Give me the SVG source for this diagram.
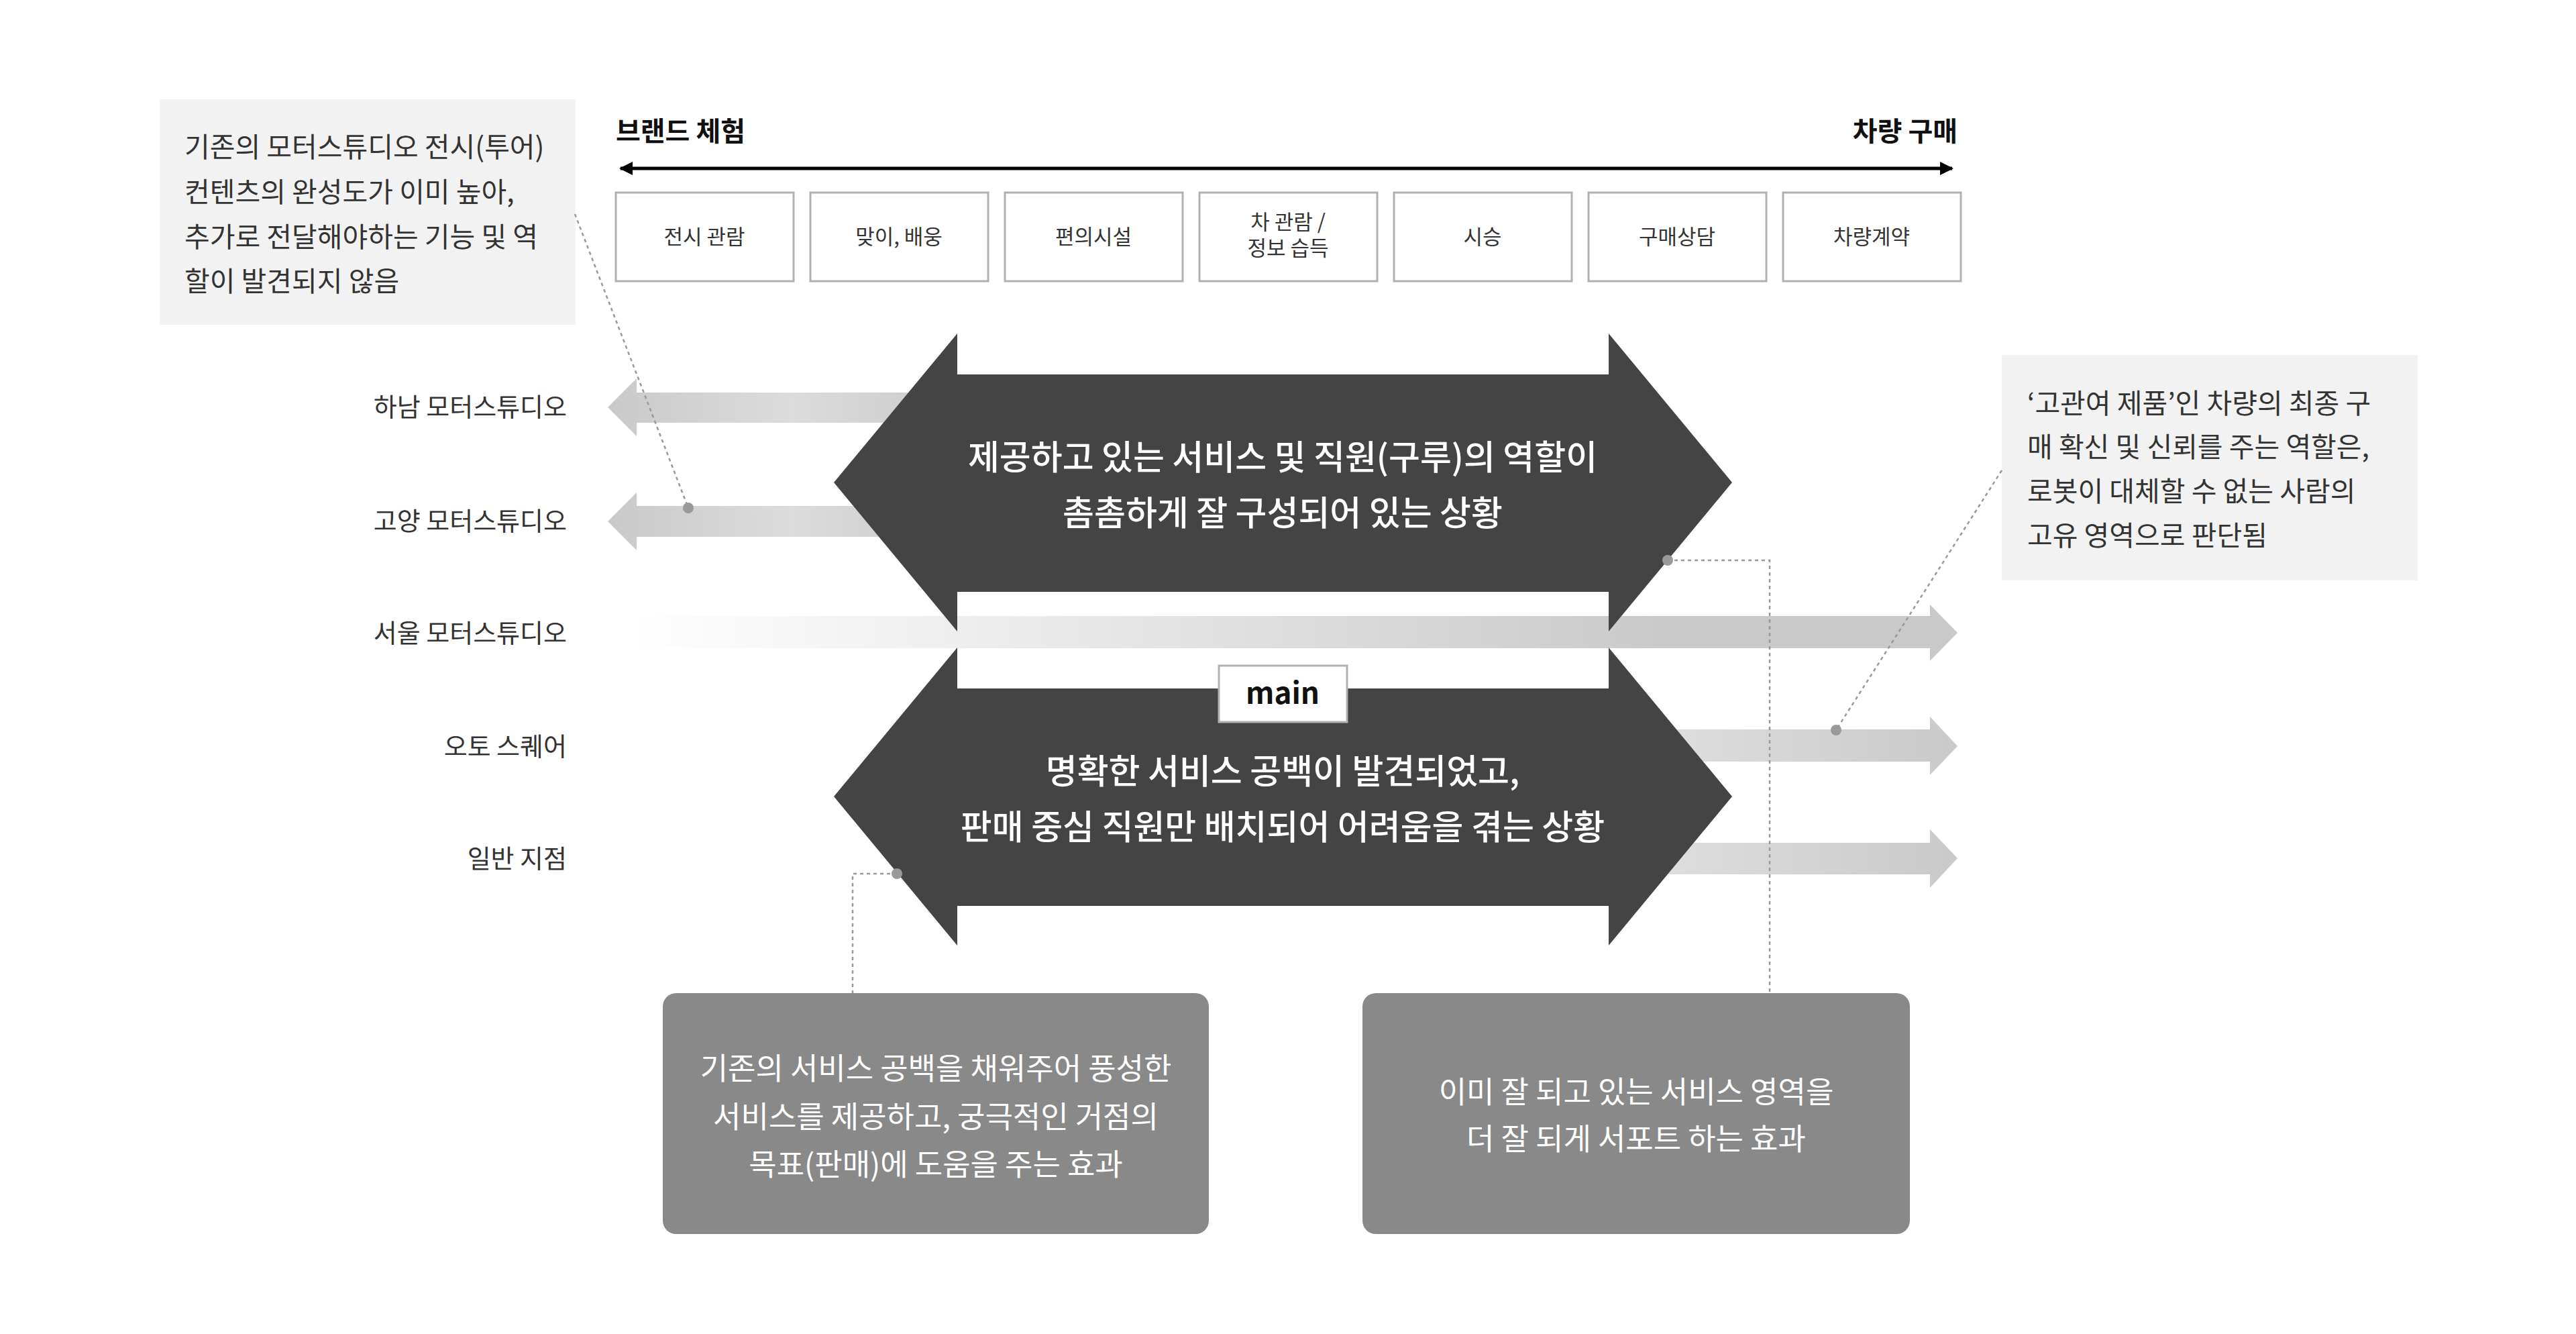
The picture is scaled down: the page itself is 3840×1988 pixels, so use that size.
<svg xmlns="http://www.w3.org/2000/svg" width="3840" height="1988" viewBox="0 0 3840 1988">
<defs>
<style>
text{font-family:"Noto Sans CJK KR","Noto Sans",sans-serif}
.step{fill:#fff;stroke:#b0b0b0;stroke-width:3}
.st{font-size:31px;fill:#333;text-anchor:middle}
.row{font-size:38px;fill:#333;text-anchor:end}
.note{font-size:41px;fill:#333}
.dark{fill:#444}
.wt{font-size:51px;fill:#fff;text-anchor:middle;font-weight:500}
.bt{font-size:45px;fill:#fff;text-anchor:middle}
.dot{stroke:#999;stroke-width:2.5;stroke-dasharray:5 5;fill:none}
.pt{fill:#999}
</style>
<linearGradient id="gL" gradientUnits="userSpaceOnUse" x1="906" y1="0" x2="1450" y2="0"><stop offset="0" stop-color="#c9c9c9"/><stop offset="0.5" stop-color="#dcdcdc"/><stop offset="1" stop-color="#c9c9c9"/></linearGradient>
<linearGradient id="gS" gradientUnits="userSpaceOnUse" x1="940" y1="0" x2="2500" y2="0"><stop offset="0" stop-color="#fff"/><stop offset="1" stop-color="#c9c9c9"/></linearGradient>
<linearGradient id="gR" gradientUnits="userSpaceOnUse" x1="2400" y1="0" x2="2918" y2="0"><stop offset="0" stop-color="#e2e2e2"/><stop offset="1" stop-color="#c9c9c9"/></linearGradient>
<marker id="ah" viewBox="0 0 10 10" refX="9" refY="5" markerWidth="4" markerHeight="4" orient="auto-start-reverse"><path d="M0,0L10,5L0,10z" fill="#000"/></marker>
</defs>
<rect width="3840" height="1988" fill="#fff"/>

<g id="timeline">
<text x="918" y="210" font-size="40" font-weight="700" fill="#111">브랜드 체험</text>
<text x="2918" y="210" font-size="40" font-weight="700" fill="#111" text-anchor="end">차량 구매</text>
<line x1="925" y1="251" x2="2910" y2="251" stroke="#000" stroke-width="5" marker-start="url(#ah)" marker-end="url(#ah)"/>
</g>
<g id="steps">
<rect class="step" x="918" y="287" width="265" height="132"/><text class="st" x="1050" y="364">전시 관람</text>
<rect class="step" x="1208" y="287" width="265" height="132"/><text class="st" x="1340" y="364">맞이, 배웅</text>
<rect class="step" x="1498" y="287" width="265" height="132"/><text class="st" x="1630" y="364">편의시설</text>
<rect class="step" x="1788" y="287" width="265" height="132"/><text class="st" x="1920" y="342" font-size="28">차 관람 /</text><text class="st" x="1920" y="381" font-size="28">정보 습득</text>
<rect class="step" x="2078" y="287" width="265" height="132"/><text class="st" x="2210" y="364">시승</text>
<rect class="step" x="2368" y="287" width="265" height="132"/><text class="st" x="2500" y="364">구매상담</text>
<rect class="step" x="2658" y="287" width="265" height="132"/><text class="st" x="2790" y="364">차량계약</text>
</g>

<g id="rows">
<text class="row" x="845" y="620">하남 모터스튜디오</text>
<text class="row" x="845" y="790">고양 모터스튜디오</text>
<text class="row" x="845" y="957">서울 모터스튜디오</text>
<text class="row" x="845" y="1126">오토 스퀘어</text>
<text class="row" x="845" y="1293">일반 지점</text>
<polygon fill="url(#gL)" points="906,607 949,564 949,585 1450,585 1450,630 949,630 949,650"/>
<polygon fill="url(#gL)" points="906,777 949,734 949,754 1450,754 1450,800 949,800 949,820"/>
<polygon fill="url(#gS)" points="940,918 2877,918 2877,901 2918,943 2877,985 2877,966 940,966"/>
<polygon fill="url(#gR)" points="2400,1087 2877,1087 2877,1068 2918,1112 2877,1155 2877,1135 2400,1135"/>
<polygon fill="url(#gR)" points="2400,1256 2877,1256 2877,1236 2918,1279 2877,1323 2877,1303 2400,1303"/>
</g>

<g id="arrow-top">
<polygon class="dark" points="1243,719 1427,497 1427,558 2398,558 2398,497 2582,719 2398,941 2398,882 1427,882 1427,941"/>
<text class="wt" x="1912" y="700">제공하고 있는 서비스 및 직원(구루)의 역할이</text>
<text class="wt" x="1912" y="783">촘촘하게 잘 구성되어 있는 상황</text>
</g>
<g id="arrow-bottom">
<polygon class="dark" points="1243,1187 1427,965 1427,1026 2398,1026 2398,965 2582,1187 2398,1409 2398,1350 1427,1350 1427,1409"/>
<text class="wt" x="1912" y="1168">명확한 서비스 공백이 발견되었고,</text>
<text class="wt" x="1912" y="1251">판매 중심 직원만 배치되어 어려움을 겪는 상황</text>
</g>
<g id="main-label">
<rect x="1817" y="992" width="191" height="84" fill="#fff" stroke="#b0b0b0" stroke-width="3"/>
<text x="1912" y="1049" font-size="44" font-weight="700" fill="#111" text-anchor="middle">main</text>
</g>

<g id="note-left">
<rect x="238" y="148" width="620" height="336" fill="#f2f2f2"/>
<text class="note" x="275" y="234">기존의 모터스튜디오 전시(투어)</text>
<text class="note" x="275" y="301">컨텐츠의 완성도가 이미 높아,</text>
<text class="note" x="275" y="368">추가로 전달해야하는 기능 및 역</text>
<text class="note" x="275" y="434">할이 발견되지 않음</text>
</g>
<g id="note-right">
<rect x="2984" y="529" width="620" height="336" fill="#f2f2f2"/>
<text class="note" x="3022" y="616">‘고관여 제품’인 차량의 최종 구</text>
<text class="note" x="3022" y="681">매 확신 및 신뢰를 주는 역할은,</text>
<text class="note" x="3022" y="747">로봇이 대체할 수 없는 사람의</text>
<text class="note" x="3022" y="813">고유 영역으로 판단됨</text>
</g>
<g id="box-left">
<rect x="988" y="1480" width="814" height="359" rx="20" fill="#898989"/>
<text class="bt" x="1395" y="1609">기존의 서비스 공백을 채워주어 풍성한</text>
<text class="bt" x="1395" y="1681">서비스를 제공하고, 궁극적인 거점의</text>
<text class="bt" x="1395" y="1752">목표(판매)에 도움을 주는 효과</text>
</g>
<g id="box-right">
<rect x="2031" y="1480" width="816" height="359" rx="20" fill="#898989"/>
<text class="bt" x="2439" y="1644">이미 잘 되고 있는 서비스 영역을</text>
<text class="bt" x="2439" y="1714">더 잘 되게 서포트 하는 효과</text>
</g>

<g id="connectors">
<path class="dot" d="M857,319 L1026,757"/>
<circle class="pt" cx="1026" cy="757" r="8"/>
<path class="dot" d="M2486,835 H2638 V1480"/>
<circle class="pt" cx="2486" cy="835" r="8"/>
<path class="dot" d="M2984,701 L2737,1088"/>
<circle class="pt" cx="2737" cy="1088" r="8"/>
<path class="dot" d="M1337,1302 H1271 V1480"/>
<circle class="pt" cx="1337" cy="1302" r="8"/>
</g>
</svg>
